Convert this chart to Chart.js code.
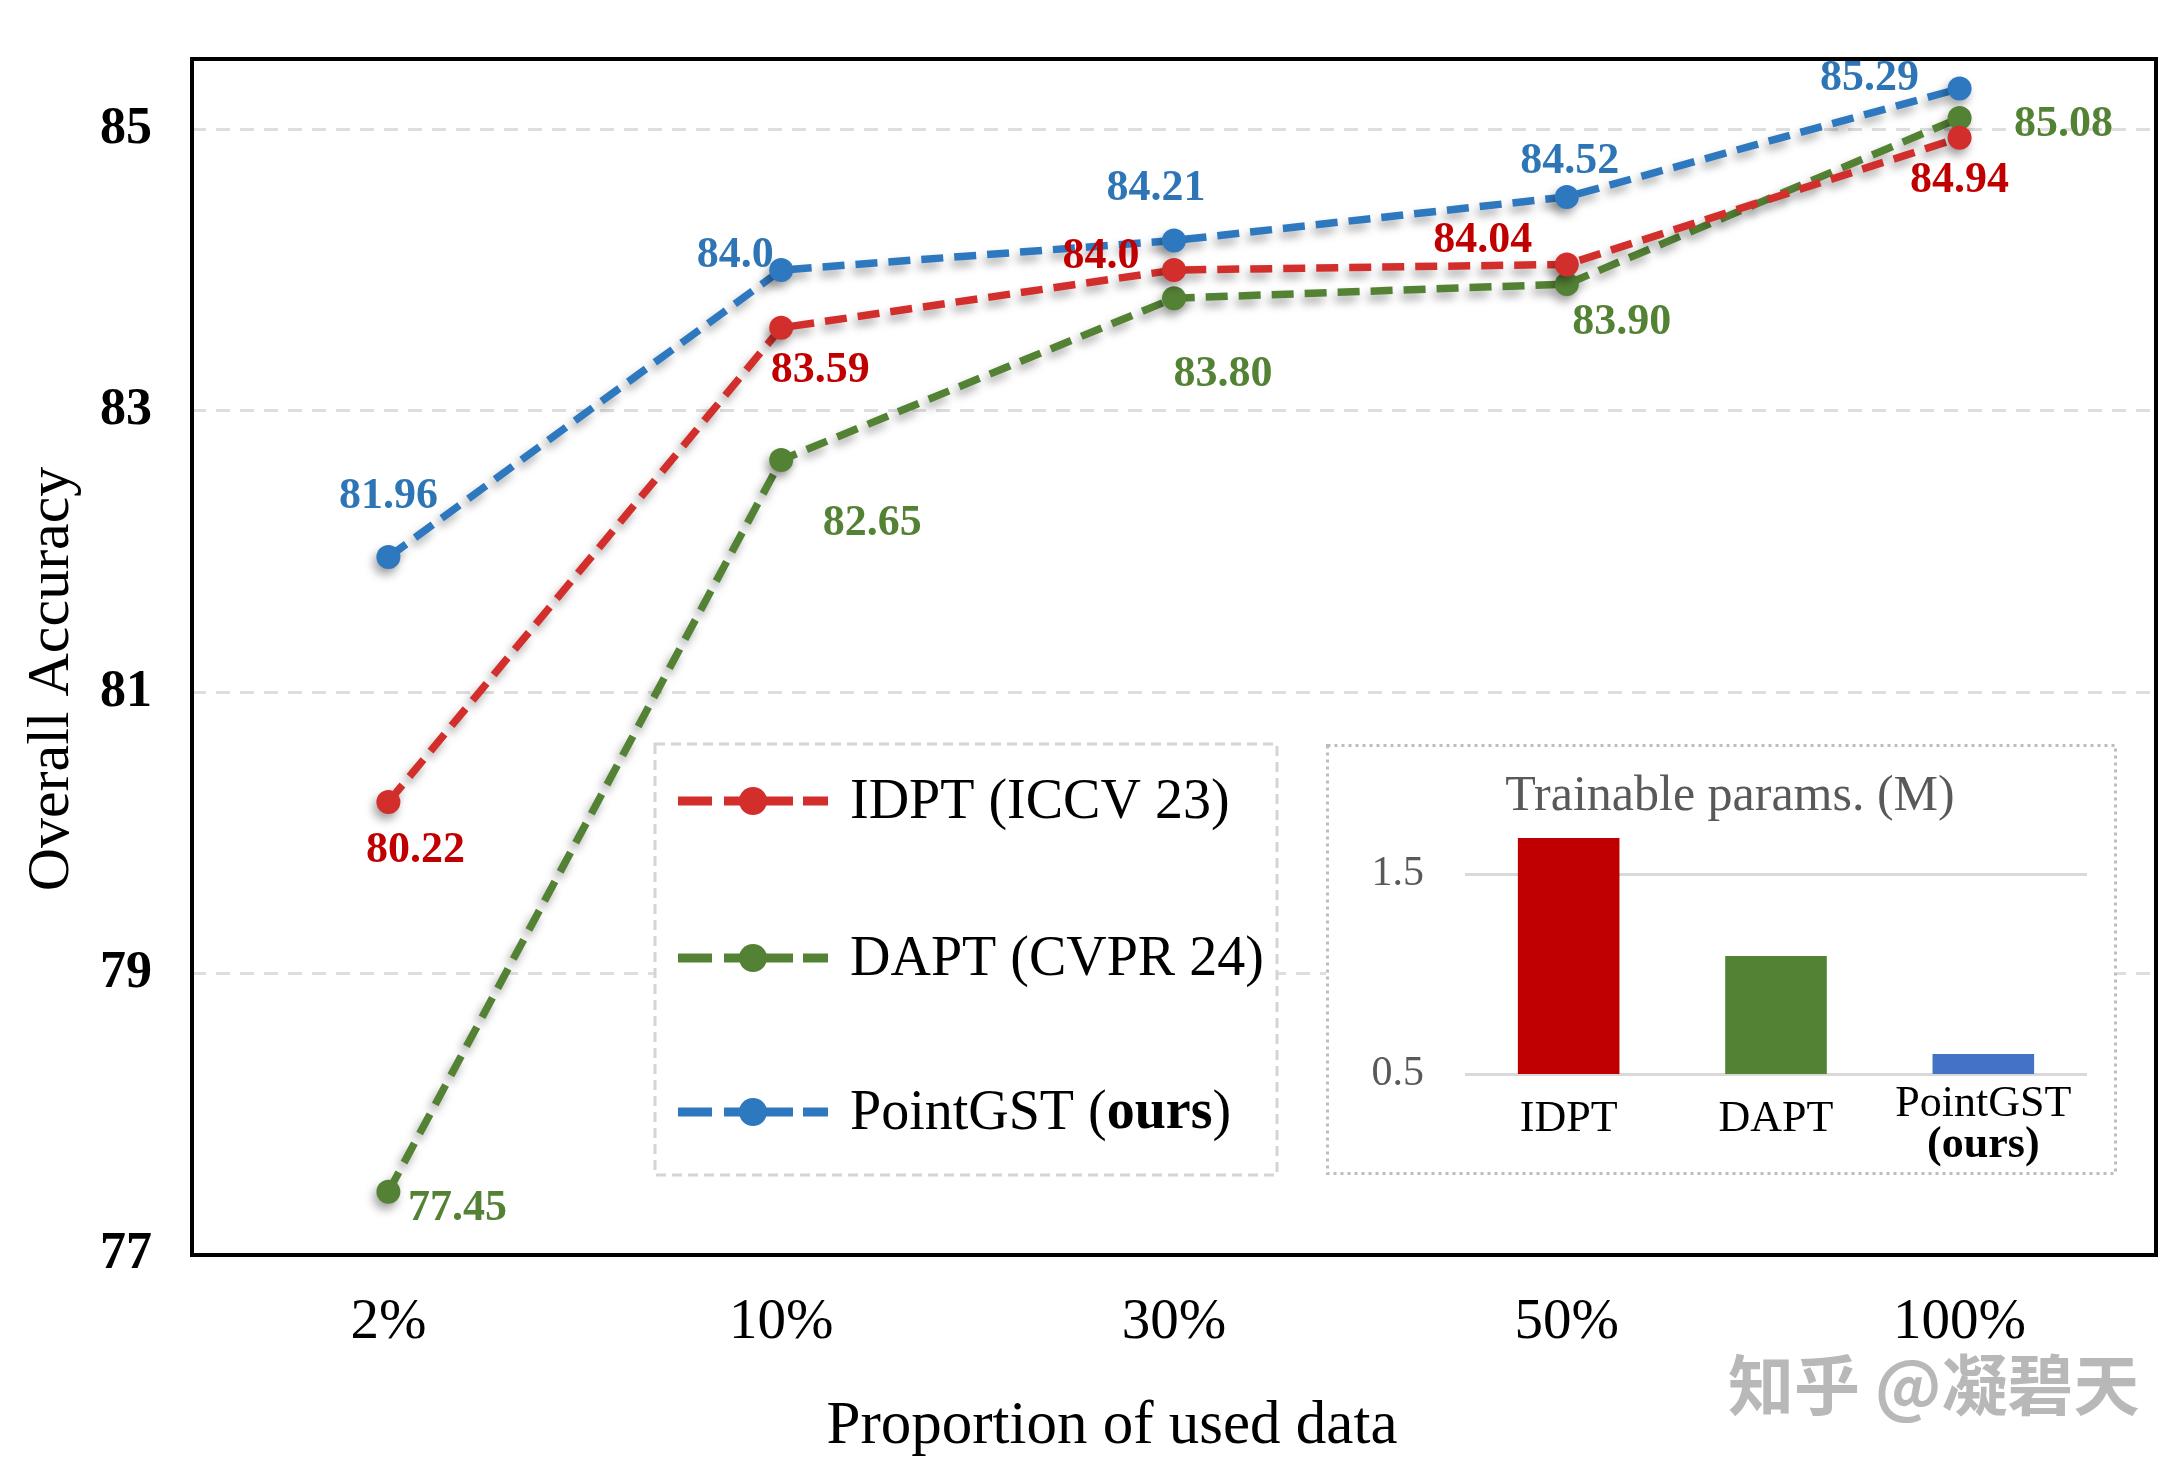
<!DOCTYPE html>
<html>
<head>
<meta charset="utf-8">
<script src="https://cdn.jsdelivr.net/npm/chart.js@4.4.1/dist/chart.umd.min.js"></script>
<style>
  body { margin: 0; background: #fff; }
  #wrap { position: relative; width: 2182px; height: 1462px; }
  #main { position: absolute; left: 0; top: 0; }
  #params { position: absolute; left: 1326px; top: 744px; }
</style>
</head>
<body>
<div id="wrap">
  <canvas id="main" width="2182" height="1462"></canvas>
  <canvas id="params" width="791" height="431"></canvas>
</div>
<script>
const SERIF = '"Liberation Serif", "Times New Roman", serif';

/*************** data ***************/
const proportions = ['2%', '10%', '30%', '50%', '100%'];
const idpt     = [80.22, 83.59, 84.0, 84.04, 84.94];
const dapt     = [77.45, 82.65, 83.80, 83.90, 85.08];
const pointgst = [81.96, 84.0, 84.21, 84.52, 85.29];
const accTicks = [77, 79, 81, 83, 85];

const methods = ['IDPT', 'DAPT', ['PointGST', '(ours)']];
const params = [1.68, 1.09, 0.6];
const paramTicks = [0.5, 1.5];

/*************** plugins main chart ***************/
// soft drop shadow under the dashed lines
const lineShadow = {
  id: 'lineShadow',
  beforeDatasetDraw(chart) {
    const c = chart.ctx;
    c.save();
    c.shadowColor = 'rgba(0,0,0,0.35)';
    c.shadowBlur = 10;
    c.shadowOffsetX = -3;
    c.shadowOffsetY = 6;
  },
  afterDatasetDraw(chart) {
    chart.ctx.restore();
  }
};

// value next to each point
const valueLabels = {
  id: 'valueLabels',
  afterDatasetsDraw(chart) {
    const ctx = chart.ctx;
    ctx.save();
    ctx.font = 'bold 44px ' + SERIF;
    ctx.textAlign = 'center';
    ctx.textBaseline = 'middle';
    chart.data.datasets.forEach((ds, i) => {
      chart.getDatasetMeta(i).data.forEach((pt, j) => {
        const v = ds.data[j];
        const txt = Number.isInteger(v) ? v.toFixed(1) : v.toFixed(2);
        ctx.fillStyle = ds.labelColor;
        ctx.fillText(txt, pt.x + ds.labelShift[j][0], pt.y + ds.labelShift[j][1]);
      });
    });
    ctx.restore();
  }
};

const legendBox = { x: 655, y: 744, w: 622, h: 431, rows: [57, 214, 368] };

const frameAndLegend = {
  id: 'frameAndLegend',
  afterDraw(chart) {
    const ctx = chart.ctx, a = chart.chartArea, b = legendBox;
    ctx.save();
    // frame
    ctx.strokeStyle = '#000';
    ctx.lineWidth = 4;
    ctx.strokeRect(a.left, a.top, a.right - a.left, a.bottom - a.top);

    // axis titles (sit a bit off-centre in the original)
    ctx.fillStyle = '#000';
    ctx.textAlign = 'center';
    ctx.textBaseline = 'middle';
    ctx.font = '61px ' + SERIF;
    ctx.fillText('Proportion of used data', 1112, 1427);
    ctx.save();
    ctx.translate(52, 679);
    ctx.rotate(-Math.PI / 2);
    ctx.font = '60px ' + SERIF;
    ctx.fillText('Overall Accuracy', 0, 0);
    ctx.restore();

    // legend box
    ctx.fillStyle = '#fff';
    ctx.fillRect(b.x, b.y, b.w, b.h);
    ctx.strokeStyle = '#d4d4d4';
    ctx.lineWidth = 3;
    ctx.setLineDash([10, 6]);
    ctx.strokeRect(b.x, b.y, b.w, b.h);

    chart.data.datasets.forEach((ds, i) => {
      const y = b.y + b.rows[i];
      ctx.strokeStyle = ds.borderColor;
      ctx.lineWidth = 9;
      ctx.setLineDash([34, 12, 69, 10, 26]);
      ctx.beginPath();
      ctx.moveTo(b.x + 23, y);
      ctx.lineTo(b.x + 173, y);
      ctx.stroke();
      ctx.setLineDash([]);
      ctx.fillStyle = ds.borderColor;
      ctx.beginPath();
      ctx.arc(b.x + 98, y, 14, 0, Math.PI * 2);
      ctx.fill();

      ctx.fillStyle = '#000';
      ctx.textBaseline = 'middle';
      ctx.textAlign = 'left';
      let x = b.x + 195;
      ds.label.split(/(ours)/).forEach(part => {
        if (!part) return;
        ctx.font = (part === 'ours' ? 'bold ' : '') + '56px ' + SERIF;
        ctx.fillText(part, x, y + 2);
        x += ctx.measureText(part).width;
      });
    });

    // watermark
    ctx.font = 'bold 66px "Noto Sans CJK SC"';
    ctx.fillStyle = '#b8b8b8';
    ctx.textAlign = 'left';
    ctx.textBaseline = 'middle';
    ctx.fillText('知乎 @凝碧天', 1728, 1385);
    ctx.restore();
  }
};

/*************** main chart ***************/
const mainChart = new Chart(document.getElementById('main'), {
  type: 'line',
  data: {
    labels: proportions,
    datasets: [
      {
        label: 'IDPT (ICCV 23)',
        data: idpt,
        borderColor: '#d22f2c',
        backgroundColor: '#d22f2c',
        labelColor: '#c00000',
        labelShift: [[27, 49], [39, 43], [-73, -13], [-84, -24], [0, 43]]
      },
      {
        label: 'DAPT (CVPR 24)',
        data: dapt,
        borderColor: '#548235',
        backgroundColor: '#548235',
        labelColor: '#548235',
        labelShift: [[69, 17], [91, 64], [49, 76], [55, 39], [104, 7]]
      },
      {
        label: 'PointGST (ours)',
        data: pointgst,
        borderColor: '#2e78c0',
        backgroundColor: '#2e78c0',
        labelColor: '#2e75b6',
        labelShift: [[0, -60], [-46, -14], [-18, -52], [3, -35], [-90, -10]]
      }
    ]
  },
  options: {
    responsive: false,
    devicePixelRatio: 1,
    animation: false,
    events: [],
    layout: { padding: { top: 59, right: 26, left: 0, bottom: 0 } },
    elements: {
      line: { borderWidth: 7.5, borderDash: [22, 11], tension: 0, fill: false },
      point: { radius: 12, borderWidth: 0, hoverRadius: 12 }
    },
    plugins: {
      legend: { display: false },
      tooltip: { enabled: false }
    },
    scales: {
      x: {
        offset: true,
        grid: { display: false },
        border: { display: false },
        ticks: { color: '#000', padding: 26, font: { family: SERIF, size: 57 } },
        afterFit(s) { s.height = 207; s.paddingLeft = 0; s.paddingRight = 0; }
      },
      y: {
        min: 77,
        max: 85.5,
        afterBuildTicks(s) { s.ticks = accTicks.map(v => ({ value: v })); },
        grid: { color: '#dedede', lineWidth: 3, drawTicks: false },
        border: { display: false, dash: [14, 10] },
        ticks: { color: '#000', padding: 40, font: { family: SERIF, size: 52, weight: 'bold' } },
        afterFit(s) { s.width = 192; s.paddingTop = 0; s.paddingBottom = 0; }
      }
    }
  },
  plugins: [lineShadow, valueLabels, frameAndLegend]
});

/*************** inset: trainable params ***************/
const paramsDecor = {
  id: 'paramsDecor',
  beforeDraw(chart) {
    const ctx = chart.ctx;
    ctx.save();
    ctx.fillStyle = '#fff';
    ctx.fillRect(0, 0, chart.width, chart.height);
    ctx.restore();
  },
  afterDraw(chart) {
    const ctx = chart.ctx;
    ctx.save();
    ctx.strokeStyle = '#bdbdbd';
    ctx.lineWidth = 3;
    ctx.setLineDash([3, 4]);
    ctx.strokeRect(1.5, 1.5, chart.width - 3, chart.height - 3);
    ctx.setLineDash([]);

    ctx.fillStyle = '#595959';
    ctx.font = '50px ' + SERIF;
    ctx.textAlign = 'center';
    ctx.textBaseline = 'middle';
    ctx.fillText('Trainable params. (M)', 404, 53);

    // category names under the bars
    ctx.fillStyle = '#000';
    const xs = chart.scales.x;
    chart.data.labels.forEach((lab, i) => {
      const x = xs.getPixelForValue(i);
      if (Array.isArray(lab)) {
        ctx.font = '44px ' + SERIF;
        ctx.fillText(lab[0], x, 360);
        ctx.font = 'bold 44px ' + SERIF;
        ctx.fillText(lab[1], x, 402);
      } else {
        ctx.font = '44px ' + SERIF;
        ctx.fillText(lab, x, 375);
      }
    });
    ctx.restore();
  }
};

const paramsChart = new Chart(document.getElementById('params'), {
  type: 'bar',
  data: {
    labels: methods,
    datasets: [{
      label: 'Trainable params. (M)',
      data: params,
      backgroundColor: ['#c00000', '#548235', '#4472c4'],
      barPercentage: 0.49,
      categoryPercentage: 1.0
    }]
  },
  options: {
    responsive: false,
    devicePixelRatio: 1,
    animation: false,
    events: [],
    layout: { padding: { top: 80, right: 30, left: 0, bottom: 0 } },
    plugins: {
      legend: { display: false },
      tooltip: { enabled: false }
    },
    scales: {
      x: {
        grid: { display: false },
        border: { display: false },
        ticks: { display: false },
        afterFit(s) { s.height = 101; s.paddingLeft = 0; s.paddingRight = 0; }
      },
      y: {
        min: 0.5,
        max: 1.75,
        afterBuildTicks(s) { s.ticks = paramTicks.map(v => ({ value: v })); },
        grid: { color: '#d9d9d9', lineWidth: 3, drawTicks: false },
        border: { display: false },
        ticks: {
          color: '#595959',
          padding: 41,
          font: { family: SERIF, size: 42 },
          callback: v => v.toFixed(1)
        },
        afterFit(s) { s.width = 139; s.paddingTop = 0; s.paddingBottom = 0; }
      }
    }
  },
  plugins: [paramsDecor]
});
</script>
</body>
</html>
